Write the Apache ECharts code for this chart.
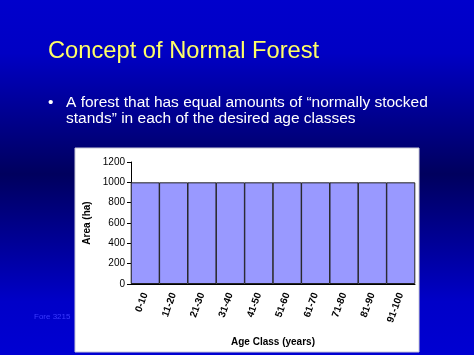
<!DOCTYPE html>
<html>
<head>
    <meta charset="utf-8">
    <title>Concept of Normal Forest</title>
    <script src="https://cdn.jsdelivr.net/npm/echarts@6/dist/echarts.min.js"></script>
    <style>
        * {
            margin: 0;
            padding: 0;
        }
        #main {
            width: 474px;
            height: 355px;
        }
    </style>
</head>
<body>
<div id="main"></div>
<script>
    var ageClasses = ['0-10', '11-20', '21-30', '31-40', '41-50', '51-60', '61-70', '71-80', '81-90', '91-100'];
    var areaHa = [1000, 1000, 1000, 1000, 1000, 1000, 1000, 1000, 1000, 1000];
    var yTicks = [0, 200, 400, 600, 800, 1000, 1200];

    var gridLeft = 131, gridRight = 59;
    var plotWidth = 474 - gridLeft - gridRight;

    var chart = echarts.init(document.getElementById('main'));
    var option = {
        animation: false,
        textStyle: { fontFamily: 'Liberation Sans, Arial, sans-serif' },
        graphic: [
            {
                type: 'rect', z: -10, silent: true,
                shape: { x: 0, y: 0, width: 474, height: 355 },
                style: {
                    // slide background: bright at top and bottom, dark band in the middle
                    fill: new echarts.graphic.LinearGradient(0, 0, 0, 1, [
                        { offset: 0, color: '#0000cc' },
                        { offset: 0.15, color: '#0000c4' },
                        { offset: 0.49, color: '#00005e' },
                        { offset: 0.85, color: '#0000c8' },
                        { offset: 1, color: '#0000d2' }
                    ])
                }
            },
            {
                type: 'rect', z: -5, silent: true,
                shape: { x: 75, y: 148, width: 344, height: 204 },
                style: { fill: '#ffffff', stroke: '#c8c8d8', lineWidth: 1 }
            },
            {
                type: 'text', left: 48, top: 39,
                style: { text: 'Concept of Normal Forest', fill: '#ffff66', font: '23.7px Liberation Sans, Arial, sans-serif' }
            },
            {
                type: 'text', left: 48, top: 95,
                style: { text: '•', fill: '#ffffff', font: '15.5px Liberation Sans, Arial, sans-serif' }
            },
            {
                type: 'text', left: 66, top: 95,
                style: {
                    text: 'A forest that has equal amounts of \u201cnormally stocked\nstands\u201d in each of the desired age classes',
                    fill: '#ffffff', font: '15.5px Liberation Sans, Arial, sans-serif', lineHeight: 16
                }
            },
            {
                type: 'text', left: 34, top: 313,
                style: { text: 'Fore 3215', fill: '#3a3aff', font: '8px Liberation Sans, Arial, sans-serif' }
            }
        ],
        grid: {
            left: gridLeft,
            right: gridRight,
            top: 162,
            bottom: 71
        },
        xAxis: {
            type: 'category',
            data: ageClasses,
            name: 'Age Class (years)',
            nameLocation: 'middle',
            nameGap: 53,
            nameTextStyle: { color: '#000', fontSize: 10, fontWeight: 'bold' },
            axisLine: { lineStyle: { color: '#000', width: 1 } },
            axisTick: { show: false },
            axisLabel: {
                color: '#000', fontSize: 10, fontWeight: 'bold',
                rotate: 70, margin: 9, interval: 0
            }
        },
        yAxis: {
            type: 'value',
            min: yTicks[0],
            max: yTicks[yTicks.length - 1],
            interval: yTicks[1] - yTicks[0],
            name: 'Area (ha)',
            nameLocation: 'middle',
            nameGap: 29,
            nameTextStyle: { color: '#000', fontSize: 10, fontWeight: 'bold' },
            axisLine: { show: true, lineStyle: { color: '#000', width: 1 } },
            axisTick: { show: true, length: 4, lineStyle: { color: '#000' } },
            axisLabel: {
                color: '#000', fontSize: 10, margin: 6,
                formatter: function (v) { return String(v); }
            },
            splitLine: { show: false }
        },
        series: [
            {
                name: 'Area',
                type: 'bar',
                data: areaHa,
                barWidth: plotWidth / ageClasses.length + 0.6,
                itemStyle: {
                    color: '#9999ff',
                    borderColor: '#222',
                    borderWidth: 1
                }
            }
        ]
    };
    chart.setOption(option);
</script>
</body>
</html>
